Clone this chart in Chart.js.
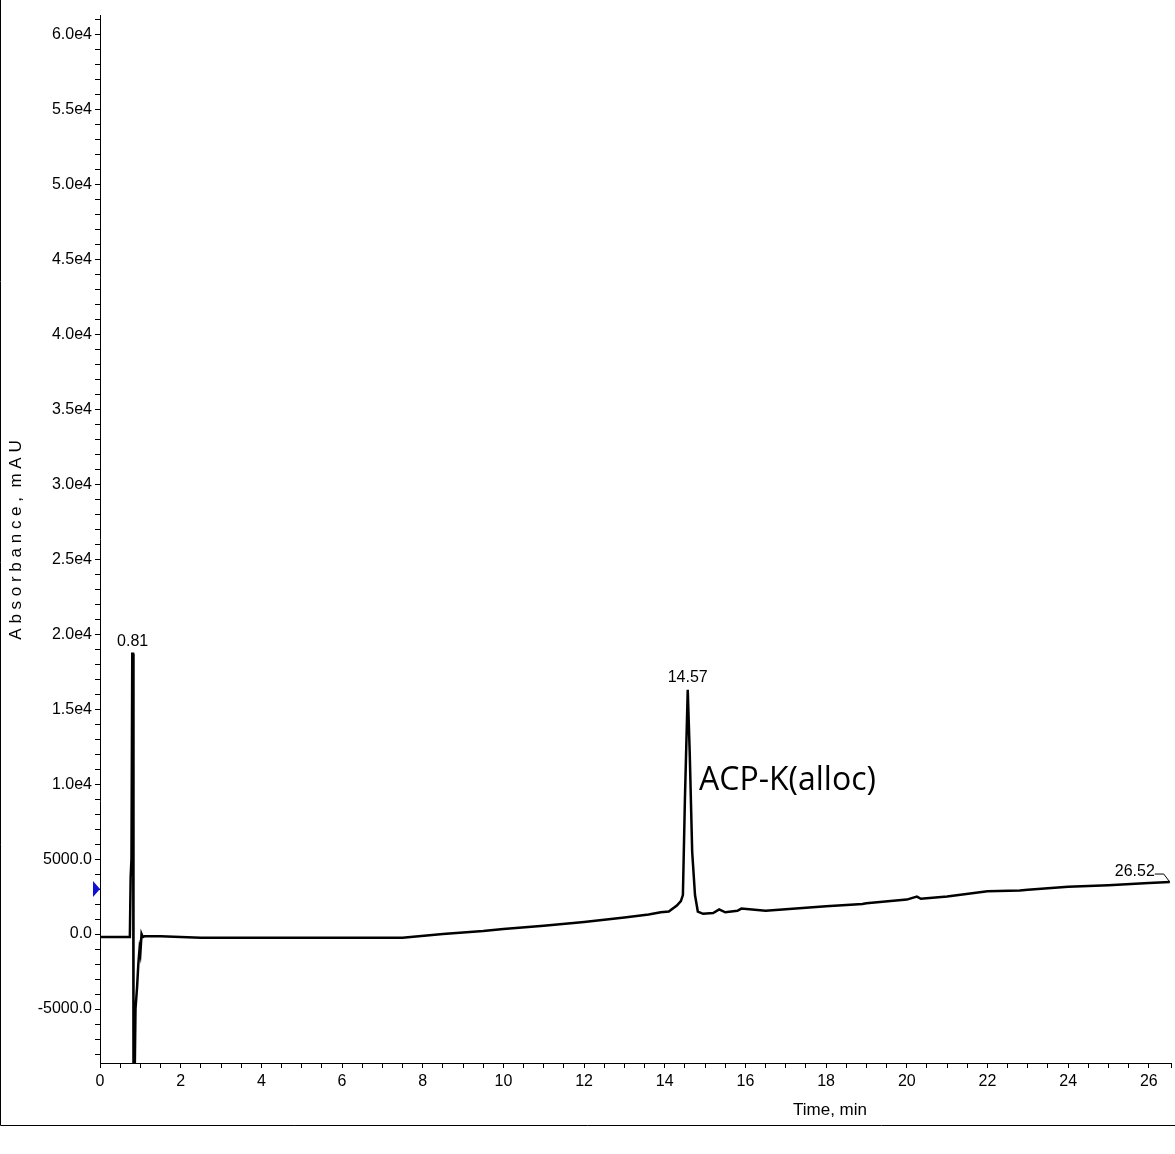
<!DOCTYPE html>
<html>
<head>
<meta charset="utf-8">
<script src="https://cdn.jsdelivr.net/npm/chart.js@4.4.1/dist/chart.umd.min.js"></script>
<style>
  html, body { margin: 0; padding: 0; background: #fff; }
  #wrap { width: 1175px; height: 1154px; }
</style>
</head>
<body>
<div id="wrap"><canvas id="chart"></canvas></div>
<script>
// chromatogram trace (time in min, absorbance in mAU)
const times = [0, 0.5, 0.74, 0.76, 0.78, 0.80, 0.82, 0.83, 0.86, 0.88, 0.92, 0.95, 0.98, 1.0, 1.03, 1.06, 1.1, 1.5, 2.5, 4, 6, 7.5,
  8.5, 9.5, 10, 11, 12, 13, 13.6, 13.9, 14.1, 14.3, 14.4, 14.45, 14.5, 14.57, 14.62, 14.68, 14.75, 14.82, 14.95, 15.2, 15.35, 15.5,
  15.8, 15.9, 16.5, 17, 18, 18.9, 19, 20, 20.25, 20.35, 21, 22, 22.8, 23, 24, 25, 26, 26.52];
const absorb = [-200, -200, -200, 3800, 5000, 18700, 18700, -9500, -9500, -5000, -3500, -2000, -1000, -1300, 0, -200, -150, -150, -250, -250, -250, -250,
  0, 200, 330, 550, 800, 1100, 1300, 1450, 1500, 1900, 2200, 2600, 9000, 16300, 12000, 5500, 2600, 1500, 1350, 1400, 1650, 1450,
  1550, 1700, 1550, 1650, 1850, 2000, 2050, 2300, 2500, 2350, 2500, 2850, 2900, 2950, 3150, 3250, 3400, 3470];

const peakTimes = [0.81, 14.57, 26.52];
const peakValues = [18700, 16300, 3470];
const peakLabels = ["0.81", "14.57", "26.52"];

const compoundLabel = "ACP-K(alloc)";
const compoundAt = [14.85, 10200];
const markerValue = 3000;

const xMin = 0, xMax = 26.55;
const yMin = -8600, yMax = 61300;

const decorations = {
  id: "decorations",
  afterDatasetsDraw(chart) {
    const { ctx, scales: { x, y }, chartArea } = chart;
    ctx.save();
    ctx.fillStyle = "#000";
    ctx.font = "16px 'Liberation Sans', Arial, sans-serif";
    ctx.textAlign = "center";
    ctx.textBaseline = "bottom";
    peakLabels.forEach((lbl, i) => {
      let px = x.getPixelForValue(peakTimes[i]);
      let py = y.getPixelForValue(peakValues[i]);
      if (i === peakLabels.length - 1) {
        ctx.fillText(lbl, px - 35, py - 2);
        ctx.strokeStyle = "#000";
        ctx.lineWidth = 1;
        ctx.beginPath();
        ctx.moveTo(px - 15, py - 8);
        ctx.lineTo(px - 6, py - 8);
        ctx.lineTo(px, py);
        ctx.stroke();
      } else {
        ctx.fillText(lbl, px, py - 4);
      }
    });
    ctx.font = "32px 'Open Sans', sans-serif";
    ctx.textAlign = "left";
    ctx.textBaseline = "middle";
    ctx.fillText(compoundLabel, x.getPixelForValue(compoundAt[0]), y.getPixelForValue(compoundAt[1]));

    // blue marker on y-axis
    const my = y.getPixelForValue(markerValue);
    ctx.fillStyle = "#1010d0";
    ctx.beginPath();
    ctx.moveTo(chartArea.left - 7, my - 8);
    ctx.lineTo(chartArea.left, my);
    ctx.lineTo(chartArea.left - 7, my + 8);
    ctx.closePath();
    ctx.fill();

    // axis titles
    ctx.fillStyle = "#000";
    ctx.font = "17px 'Liberation Sans', Arial, sans-serif";
    ctx.textAlign = "center";
    ctx.textBaseline = "middle";
    ctx.fillText("Time, min", 830, 1110);
    ctx.save();
    ctx.translate(16, 540);
    ctx.rotate(-Math.PI / 2);
    ctx.fillText("A b s o r b a n c e ,  m A U", 0, 0);
    ctx.restore();

    // frame
    ctx.strokeStyle = "#000";
    ctx.lineWidth = 1;
    ctx.beginPath();
    ctx.moveTo(0.5, 0);
    ctx.lineTo(0.5, 1125.5);
    ctx.lineTo(1175, 1125.5);
    ctx.stroke();
    ctx.restore();
  }
};

new Chart(document.getElementById("chart"), {
  type: "line",
  data: {
    datasets: [{
      data: times.map((t, i) => ({ x: t, y: absorb[i] })),
      borderColor: "#000",
      borderWidth: 2.5,
      pointRadius: 0,
      tension: 0,
      fill: false
    }]
  },
  options: {
    responsive: true,
    maintainAspectRatio: false,
    animation: false,
    layout: { padding: { top: 15, right: 0, left: 0, bottom: 0 } },
    plugins: { legend: { display: false }, tooltip: { enabled: false } },
    scales: {
      x: {
        type: "linear",
        min: xMin,
        max: xMax,
        afterFit: (s) => { s.height = 91; },
        border: { color: "#000", width: 1 },
        grid: { display: true, drawOnChartArea: false, color: "#000", tickLength: 5 },
        ticks: {
          stepSize: 0.5,
          autoSkip: false,
          maxRotation: 0,
          color: "#000",
          padding: 4,
          font: { family: "'Liberation Sans', Arial, sans-serif", size: 16 },
          callback: (v) => (Math.abs(v % 2) < 1e-9 ? String(v) : "")
        }
      },
      y: {
        min: yMin,
        max: yMax,
        afterFit: (s) => { s.width = 100; },
        afterBuildTicks: (s) => {
          const t = [];
          for (let v = -8000; v <= 61000; v += 1000) t.push({ value: v });
          s.ticks = t;
        },
        border: { color: "#000", width: 1 },
        grid: { display: true, drawOnChartArea: false, color: "#000", tickLength: 5 },
        ticks: {
          autoSkip: false,
          color: "#000",
          padding: 3,
          font: { family: "'Liberation Sans', Arial, sans-serif", size: 16 },
          callback: (v) => {
            if (v % 5000 !== 0) return "";
            if (Math.abs(v) < 10000) return v.toFixed(1);
            return (v / 10000).toFixed(1) + "e4";
          }
        }
      }
    }
  },
  plugins: [decorations]
});
</script>
</body>
</html>
